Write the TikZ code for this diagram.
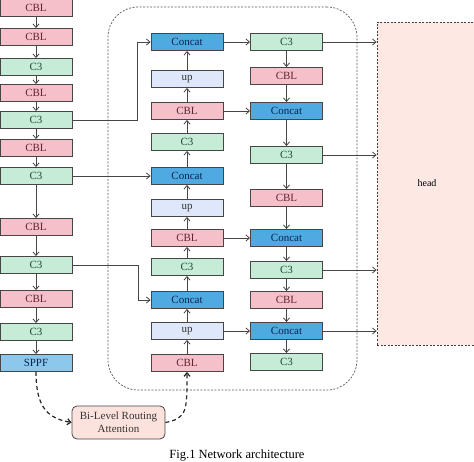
\documentclass[tikz,border=0pt]{standalone}
\usepackage{fontspec}
\setmainfont{Liberation Serif}
\usetikzlibrary{arrows.meta, positioning}
\definecolor{cblfill}{RGB}{246,192,202}
\definecolor{cblink}{RGB}{100,35,50}
\definecolor{cthreefill}{RGB}{198,236,215}
\definecolor{cthreeink}{RGB}{25,75,55}
\definecolor{concatfill}{RGB}{78,170,225}
\definecolor{concatink}{RGB}{10,35,80}
\definecolor{upfill}{RGB}{222,232,250}
\definecolor{sppffill}{RGB}{140,200,235}
\definecolor{brafill}{RGB}{252,226,220}
\definecolor{headfill}{RGB}{253,232,228}
\definecolor{edge}{RGB}{70,70,70}

\begin{document}
\begin{tikzpicture}[x=1pt,y=-1pt,
  blk/.style={draw=edge,line width=0.9pt,minimum width=72pt,minimum height=17pt,
    inner sep=0pt,font=\fontsize{11}{12}\selectfont},
  cbl/.style={blk,fill=cblfill,text=cblink},
  cthree/.style={blk,fill=cthreefill,text=cthreeink},
  concat/.style={blk,fill=concatfill,text=concatink},
  upbox/.style={blk,fill=upfill,text=black!80},
  sppf/.style={blk,fill=sppffill,text=concatink},
  arr/.style={-{Straight Barb[length=3.5pt,width=6pt]},draw=edge,line width=0.8pt},
  dasharr/.style={-{Straight Barb[length=3.5pt,width=6pt]},line width=1.2pt,
    dash pattern=on 4pt off 3pt,draw=black!85}]
  \useasboundingbox (0,0) rectangle (474,462);
  % neck region
  \node[draw=black!65,line width=0.7pt,dash pattern=on 2pt off 1.5pt,rounded corners=30pt,
    minimum width=249pt,minimum height=383pt,inner sep=0pt] (neck) at (232.5,198.5) {};
  % head
  \node[draw=black!75,fill=headfill,line width=0.8pt,dash pattern=on 2pt off 1.5pt,
    minimum width=100pt,minimum height=323pt,inner sep=0pt,
    font=\fontsize{10}{12}\selectfont] (head) at (427,183.5) {head};
  % backbone
  \foreach \n/\y/\lbl/\sty in {
    L1/8/CBL/cbl, L2/37/CBL/cbl, L3/67/C3/cthree, L4/93/CBL/cbl,
    L5/120/C3/cthree, L6/148/CBL/cbl, L7/176/C3/cthree, L8/227/CBL/cbl,
    L9/265/C3/cthree, L10/299/CBL/cbl, L11/332/C3/cthree, L12/363/SPPF/sppf}{
    \node[\sty] (\n) at (36,\y) {\lbl};
  }
  % neck, upward path
  \foreach \n/\y/\lbl/\sty in {
    M1/42/Concat/concat, M2/79/up/upbox, M3/111/CBL/cbl, M4/142/C3/cthree,
    M5/176/Concat/concat, M6/208/up/upbox, M7/238/CBL/cbl, M8/267/C3/cthree,
    M9/300/Concat/concat, M10/331/up/upbox, M11/363/CBL/cbl}{
    \node[\sty] (\n) at (187,\y) {\lbl};
  }
  % neck, downward path
  \foreach \n/\y/\lbl/\sty in {
    R1/42/C3/cthree, R2/76/CBL/cbl, R3/111/Concat/concat, R4/155/C3/cthree,
    R5/198/CBL/cbl, R6/238/Concat/concat, R7/270/C3/cthree, R8/300/CBL/cbl,
    R9/331/Concat/concat, R10/362/C3/cthree}{
    \node[\sty] (\n) at (286.5,\y) {\lbl};
  }
  \node[draw=edge,fill=brafill,line width=0.8pt,rounded corners=5pt,
    minimum width=93pt,minimum height=33pt,inner sep=0pt,align=center,
    font=\fontsize{11}{13}\selectfont,text=black!80] (bra) at (118.5,422.5)
    {Bi-Level Routing\\Attention};
  % arrows
  \foreach \a/\b in {L1/L2,L2/L3,L3/L4,L4/L5,L5/L6,L6/L7,L7/L8,L8/L9,L9/L10,L10/L11,L11/L12,
    R1/R2,R2/R3,R3/R4,R4/R5,R5/R6,R6/R7,R7/R8,R8/R9,R9/R10}
    \draw[arr] (\a.south) -- (\b.north);
  \foreach \a/\b in {M11/M10,M10/M9,M9/M8,M8/M7,M7/M6,M6/M5,M5/M4,M4/M3,M3/M2,M2/M1}
    \draw[arr] (\a.north) -- (\b.south);
  \foreach \a/\b in {M1/R1,M3/R3,M7/R6,M10/R9,L7/M5}
    \draw[arr] (\a.east) -- (\b.west);
  \draw[arr] (L5.east) -- ++(65,0) |- (M1.west);
  \draw[arr] (L9.east) -- ++(66,0) |- (M9.west);
  \foreach \a in {R1,R4,R7,R9}
    \draw[arr] (\a.east) -- (\a.east -| head.west);
  \draw[dasharr] (L12.south) .. controls +(0,38) and +(-22,-4) .. (bra.west);
  \draw[dasharr] (bra.east) .. controls +(22,-4) and +(0,38) .. (M11.south);
  % caption
  \node[anchor=south,inner sep=0pt,font=\fontsize{12.5}{14}\selectfont] (cap) at (237,461)
    {Fig.1 Network architecture};
\end{tikzpicture}
\end{document}
